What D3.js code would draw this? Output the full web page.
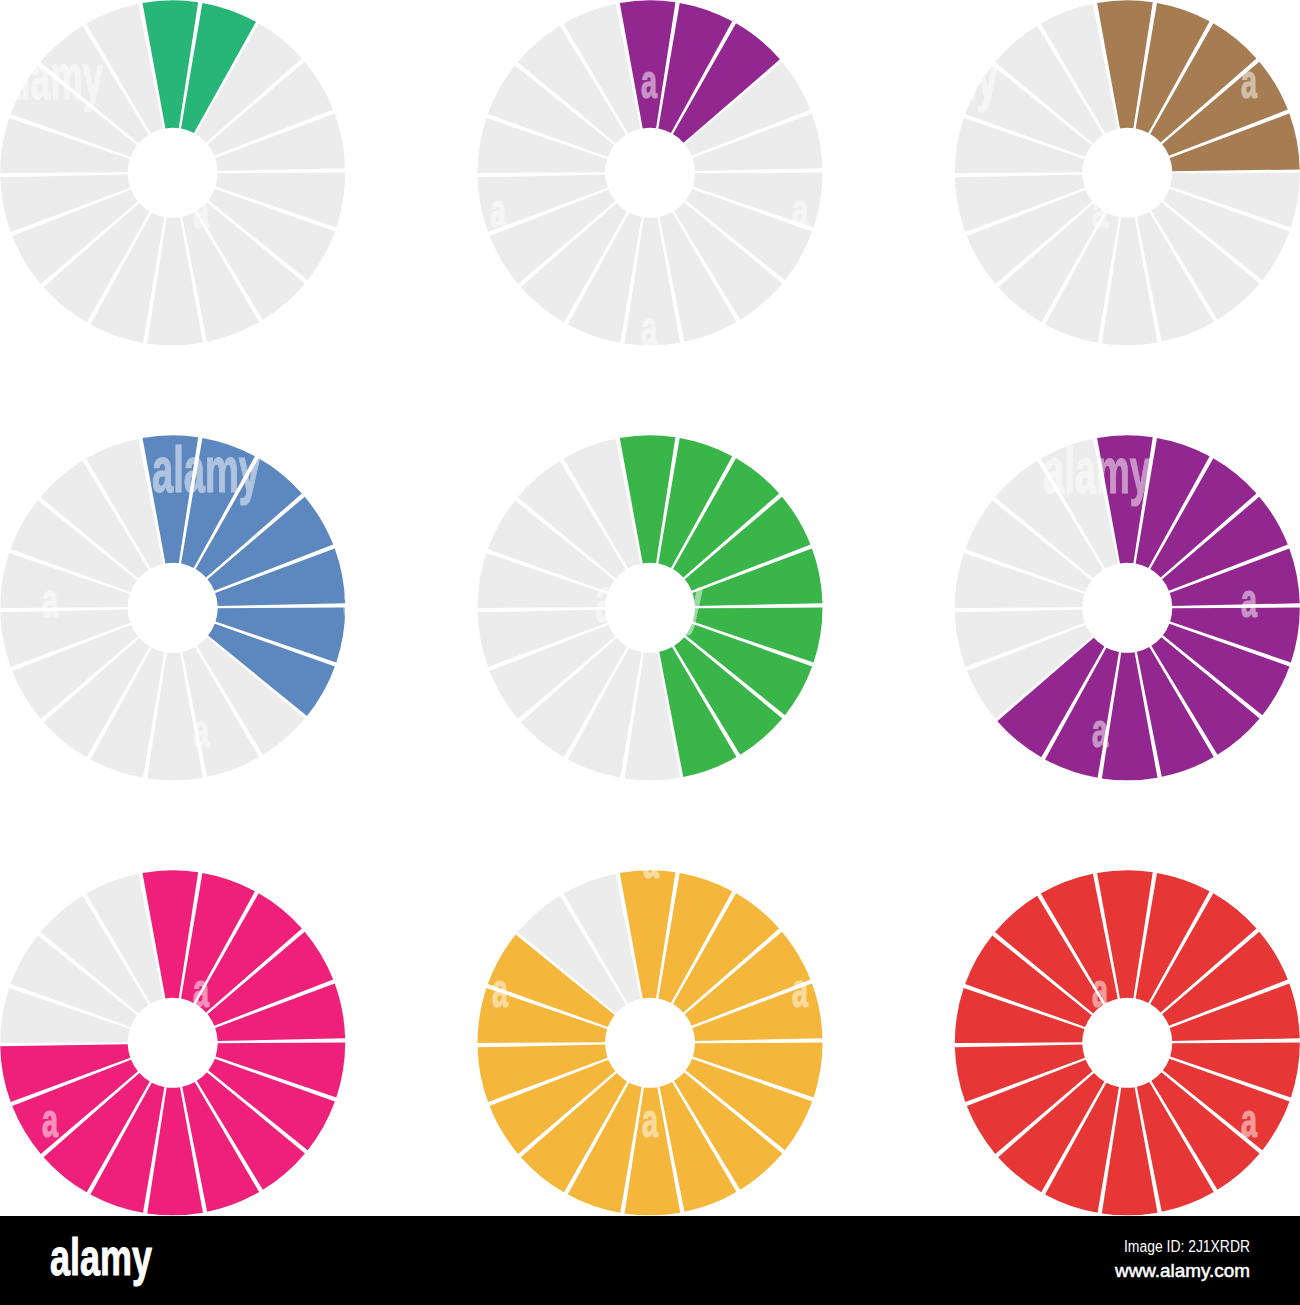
<!DOCTYPE html>
<html>
<head>
<meta charset="utf-8">
<title>Segmented progress wheels</title>
<script src="https://cdn.jsdelivr.net/npm/d3@7"></script>
<style>
  body { margin: 0; background: #fff; }
  svg { display: block; }
</style>
</head>
<body>
<div id="vis"></div>
<script>
// every wheel is 18 equal slices, the filled count is what changes
const sliceValues = [1, 1, 1, 1, 1, 1, 1, 1, 1, 1, 1, 1, 1, 1, 1, 1, 1, 1];
const filledCounts = [2, 3, 5, 7, 9, 12, 14, 16, 18];
const wheelColors = ["#27B678", "#92278F", "#A67C52", "#5C88BF", "#39B54A", "#92278F", "#EE2079", "#F5B73B", "#E73636"];
const rowIds = [0, 1, 2];
const colIds = [0, 1, 2];

const EMPTY_COLOR = "#ECECEC";
const FRAME_WIDTH = 1300;
const FRAME_HEIGHT = 1305;
const FOOTER_TOP = 1216;
const OUTER_R = 172.5;
const INNER_R = 45;
const DEG = Math.PI / 180;
const START_ANGLE = -10.8 * DEG; // the artwork is tilted a little
const TAPER = 0.45 * DEG;        // gaps get wider toward the rim
const GAP_PX = 1.6;
const CLOSE_UP = 0.4 * DEG;      // last filled slice runs closer to the grey one

const FRAME = d3.select("#vis")
  .append("svg")
    .attr("width", FRAME_WIDTH)
    .attr("height", FRAME_HEIGHT);

const X_SCALE = d3.scalePoint().domain(colIds).range([172.7, 1127.3]);
const Y_SCALE = d3.scalePoint().domain(rowIds).range([172.8, 1042.8]);

const PIE = d3.pie()
  .sort(null)
  .startAngle(START_ANGLE)
  .endAngle(START_ANGLE + 2 * Math.PI);

const slices = PIE(sliceValues);

filledCounts.forEach((filled, n) => {
  const isLast = (i) => i === filled - 1 && filled < sliceValues.length;
  const ARC = d3.arc()
    .innerRadius(INNER_R)
    .outerRadius(OUTER_R)
    .padRadius(OUTER_R)
    .padAngle(GAP_PX / OUTER_R)
    .startAngle((d) => d.startAngle + TAPER)
    .endAngle((d) => d.endAngle - TAPER + (isLast(d.index) ? CLOSE_UP : 0));

  const wheel = FRAME.append("g")
    .attr("class", "wheel")
    .attr("transform", "translate(" + X_SCALE(n % 3) + "," + Y_SCALE(Math.floor(n / 3)) + ")");

  wheel.selectAll("path")
    .data(slices)
    .enter()
    .append("path")
      .attr("d", ARC)
      .attr("fill", (d) => d.index < filled ? wheelColors[n] : EMPTY_COLOR);
});

// stock photo watermark sits over the wheels
const watermark = FRAME.append("g")
  .attr("font-family", "'Liberation Sans', sans-serif")
  .attr("font-weight", "bold")
  .attr("fill", "#fff")
  .attr("stroke", "#fff")
  .attr("stroke-width", 1.2)
  .attr("opacity", 0.5);

const WORD_MARKS = [[0, 99, 103], [890, 99, 108], [152, 492, 108], [595, 622, 108], [1043, 493, 108]];
const LETTER_MARKS = [
  [193, 228], [641, 98], [490, 227], [792, 226], [641, 345], [1241, 98], [1092, 228],
  [42, 617], [343, 617], [193, 747], [1241, 617], [1092, 747],
  [193, 1007], [42, 1137], [643, 878], [492, 1007], [792, 1007], [642, 1137],
  [1092, 1007], [1241, 1137]
];

watermark.selectAll(".word")
  .data(WORD_MARKS)
  .enter()
  .append("text")
    .attr("class", "word")
    .attr("x", (d) => d[0])
    .attr("y", (d) => d[1])
    .attr("font-size", 64)
    .attr("textLength", (d) => d[2])
    .attr("lengthAdjust", "spacingAndGlyphs")
    .text("alamy");

watermark.selectAll(".letter")
  .data(LETTER_MARKS)
  .enter()
  .append("text")
    .attr("class", "letter")
    .attr("x", (d) => d[0])
    .attr("y", (d) => d[1])
    .attr("font-size", 48)
    .attr("textLength", 16)
    .attr("lengthAdjust", "spacingAndGlyphs")
    .text("a");

// footer bar
FRAME.append("rect")
  .attr("x", 0)
  .attr("y", FOOTER_TOP)
  .attr("width", FRAME_WIDTH)
  .attr("height", FRAME_HEIGHT - FOOTER_TOP)
  .attr("fill", "#000");

const FOOTER_TEXT = [
  {t: "alamy", x: 50, y: 1275, size: 52, len: 102, weight: "bold", line: 1},
  {t: "Image ID: 2J1XRDR", x: 1124, y: 1252, size: 16, len: 126, weight: "normal", line: 0},
  {t: "www.alamy.com", x: 1115, y: 1277, size: 18, len: 135, weight: "normal", line: 0.5}
];

FRAME.selectAll(".footer")
  .data(FOOTER_TEXT)
  .enter()
  .append("text")
    .attr("class", "footer")
    .attr("font-family", "'Liberation Sans', sans-serif")
    .attr("fill", "#fff")
    .attr("stroke", "#fff")
    .attr("stroke-width", (d) => d.line)
    .attr("x", (d) => d.x)
    .attr("y", (d) => d.y)
    .attr("font-size", (d) => d.size)
    .attr("font-weight", (d) => d.weight)
    .attr("textLength", (d) => d.len)
    .attr("lengthAdjust", "spacingAndGlyphs")
    .text((d) => d.t);
</script>
</body>
</html>
